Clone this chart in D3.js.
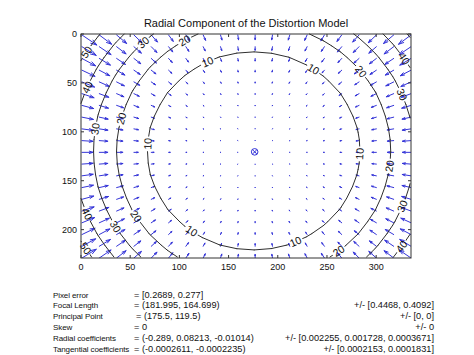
<!DOCTYPE html>
<html><head><meta charset="utf-8">
<script src="https://cdn.jsdelivr.net/npm/d3@7"></script>
<style>
body{margin:0;background:#fff;}
svg{display:block;font-family:"Liberation Sans",Arial,Helvetica,sans-serif;}
</style>
</head><body>
<svg id="c" width="474" height="355"></svg>
<script>
// ---- data (calibration results shown in the figure) ----
const imageSize = [352, 240];
const focalLength = [181.995, 164.699];
const principalPoint = [175.5, 119.5];
const radialCoeffs = [-0.289, 0.08213, -0.01014];
const gridCount = 20;
const contourLevels = [10, 20, 30, 40, 50];
const xTicks = [0, 50, 100, 150, 200, 250, 300];
const yTicks = [0, 50, 100, 150, 200];
const titleText = "Radial Component of the Distortion Model";
const infoLabels = ["Pixel error", "Focal Length", "Principal Point", "Skew", "Radial coefficients", "Tangential coefficients"];
const infoValues = ["= [0.2689, 0.277]", "= (181.995, 164.699)", "= (175.5, 119.5)", "= 0", "= (-0.289, 0.08213, -0.01014)", "= (-0.0002611, -0.0002235)"];
const infoErrors = ["", "+/- [0.4468, 0.4092]", "+/- [0, 0]", "+/- 0", "+/- [0.002255, 0.001728, 0.0003671]", "+/- [0.0002153, 0.0001831]"];
// contour label anchors: level -> directions (deg) from the principal point
const labelDirs = {
  10: [-117.6, -54.6, 1.1, 65.5, 128.6, -175.7],
  20: [-122.2, -166, 151.5, 49.7, 6, -37.1],
  30: [-135.5, -171.8, 151.8, -21.3, 20.2],
  40: [-158.9, 159.7, -32, 32.8],
  50: [-149.3, 150.3]
};

// ---- model ----
const mx = d3.range(gridCount).map(i => i * imageSize[0] / gridCount);
const my = d3.range(gridCount).map(j => j * imageSize[1] / gridCount);
function radialDisp(px, py) {
  const xn = (px - principalPoint[0]) / focalLength[0];
  const yn = (py - principalPoint[1]) / focalLength[1];
  const r2 = xn * xn + yn * yn;
  const f = radialCoeffs[0] * r2 + radialCoeffs[1] * r2 * r2 + radialCoeffs[2] * r2 * r2 * r2;
  return [focalLength[0] * xn * f, focalLength[1] * yn * f];
}
const field = [];
my.forEach((py, j) => mx.forEach((px, i) => {
  const d = radialDisp(px, py);
  field.push({i, j, px, py, dx: d[0], dy: d[1], r: Math.hypot(d[0], d[1])});
}));
const dr = my.map((_, j) => mx.map((_, i) => field[j * gridCount + i].r));

// ---- scales ----
const xMax = d3.max(mx) + 1, yMax = d3.max(my) + 1;
const X = d3.scaleLinear().domain([0, xMax]).range([81, 411]);
const Y = d3.scaleLinear().domain([0, yMax]).range([34, 258]);

const svg = d3.select("#c");
svg.append("rect").attr("width", 474).attr("height", 355).attr("fill", "#fff");

const defs = svg.append("defs");
defs.append("clipPath").attr("id", "plotclip").append("rect")
  .attr("x", X(0)).attr("y", Y(0)).attr("width", X(xMax) - X(0)).attr("height", Y(yMax) - Y(0));

// ---- quiver ----
const delx = (d3.max(mx) - d3.min(mx)) / gridCount;
const dely = (d3.max(my) - d3.min(my)) / gridCount;
const del = delx * delx + dely * dely;
const maxlen = d3.max(field, d => Math.sqrt((d.dx * d.dx + d.dy * d.dy) / del));
const sc = 0.9 / maxlen;
const alpha = 0.33, beta = 0.33, eps = 1e-12;
let qpath = "";
field.forEach(d => {
  const x0 = d.px + 1, y0 = d.py + 1, u = d.dx * sc, v = d.dy * sc;
  const tx = x0 + u, ty = y0 + v;
  const h1x = tx - alpha * (u + beta * (v + eps)), h1y = ty - alpha * (v - beta * (u + eps));
  const h2x = tx - alpha * (u - beta * (v + eps)), h2y = ty - alpha * (v + beta * (u + eps));
  qpath += `M${X(x0)},${Y(y0)}L${X(tx)},${Y(ty)}M${X(h1x)},${Y(h1y)}L${X(tx)},${Y(ty)}L${X(h2x)},${Y(h2y)}`;
});
svg.append("g").attr("clip-path", "url(#plotclip)").append("path")
  .attr("d", qpath).attr("fill", "none").attr("stroke", "#3434d8").attr("stroke-width", 1)
  .attr("stroke-linecap", "round");

// ---- contours (marching squares on the grid) ----
function contourSegs(level) {
  const segs = [];
  for (let j = 0; j < my.length - 1; j++) for (let i = 0; i < mx.length - 1; i++) {
    const c = [[i, j], [i + 1, j], [i + 1, j + 1], [i, j + 1]];
    const pts = [];
    for (let e = 0; e < 4; e++) {
      const a = c[e], b = c[(e + 1) % 4];
      const va = dr[a[1]][a[0]], vb = dr[b[1]][b[0]];
      if ((va < level) !== (vb < level)) {
        const t = (level - va) / (vb - va);
        pts.push([mx[a[0]] + t * (mx[b[0]] - mx[a[0]]), my[a[1]] + t * (my[b[1]] - my[a[1]])]);
      }
    }
    if (pts.length === 2) segs.push(pts);
    else if (pts.length === 4) { segs.push([pts[0], pts[1]]); segs.push([pts[2], pts[3]]); }
  }
  return segs.map(s => s.map(p => [X(p[0]), Y(p[1])]));
}
const cx = X(principalPoint[0] + 1), cy = Y(principalPoint[1] + 1);
const wrap = a => { while (a > Math.PI) a -= 2 * Math.PI; while (a < -Math.PI) a += 2 * Math.PI; return a; };

const mask = defs.append("mask").attr("id", "cmask").attr("maskUnits", "userSpaceOnUse")
  .attr("x", 0).attr("y", 0).attr("width", 474).attr("height", 355);
mask.append("rect").attr("width", 474).attr("height", 355).attr("fill", "#fff");

const cg = svg.append("g").attr("mask", "url(#cmask)");
const lg = svg.append("g");
contourLevels.forEach(level => {
  const segs = contourSegs(level);
  cg.append("path").attr("d", segs.map(s => `M${s[0][0]},${s[0][1]}L${s[1][0]},${s[1][1]}`).join(""))
    .attr("fill", "none").attr("stroke", "#2e2e2e").attr("stroke-width", 1).attr("stroke-linecap", "round");
  (labelDirs[level] || []).forEach(deg => {
    const th = deg * Math.PI / 180;
    let best = null;
    segs.forEach(s => {
      const d1 = wrap(Math.atan2(s[0][1] - cy, s[0][0] - cx) - th);
      const d2 = wrap(Math.atan2(s[1][1] - cy, s[1][0] - cx) - th);
      if (d1 * d2 <= 0 && Math.abs(d1 - d2) < 1) {
        const t = d1 === d2 ? 0 : d1 / (d1 - d2);
        const p = [s[0][0] + t * (s[1][0] - s[0][0]), s[0][1] + t * (s[1][1] - s[0][1])];
        const dist = Math.hypot(p[0] - cx, p[1] - cy);
        if (!best || dist < best.dist) best = {p, dist, s};
      }
    });
    if (!best) return;
    let ang = Math.atan2(best.s[1][1] - best.s[0][1], best.s[1][0] - best.s[0][0]) * 180 / Math.PI;
    if (ang > 90) ang -= 180; if (ang <= -90) ang += 180;
    const t = lg.append("text").attr("transform", `translate(${best.p[0]},${best.p[1]}) rotate(${ang})`)
      .attr("text-anchor", "middle").attr("dy", "0.35em").attr("font-size", 10.5).attr("fill", "#111")
      .text(String(level));
    const w = t.node().getComputedTextLength() + 3;
    mask.append("rect").attr("x", -w / 2).attr("y", -5).attr("width", w).attr("height", 10)
      .attr("transform", `translate(${best.p[0]},${best.p[1]}) rotate(${ang})`).attr("fill", "#000");
  });
});

// ---- principal point marker ----
svg.append("circle").attr("cx", cx).attr("cy", cy).attr("r", 3.3)
  .attr("fill", "none").attr("stroke", "#3434d8").attr("stroke-width", 1);
svg.append("path").attr("d", `M${cx - 2.3},${cy - 2.3}L${cx + 2.3},${cy + 2.3}M${cx - 2.3},${cy + 2.3}L${cx + 2.3},${cy - 2.3}`)
  .attr("stroke", "#3434d8").attr("stroke-width", 1);

// ---- axes ----
const ax = svg.append("g").attr("stroke", "#333").attr("stroke-width", 1).attr("fill", "none");
ax.append("rect").attr("x", X(0)).attr("y", Y(0)).attr("width", X(xMax) - X(0)).attr("height", Y(yMax) - Y(0));
xTicks.forEach(v => {
  ax.append("line").attr("x1", X(v)).attr("x2", X(v)).attr("y1", Y(yMax)).attr("y2", Y(yMax) - 3);
  ax.append("line").attr("x1", X(v)).attr("x2", X(v)).attr("y1", Y(0)).attr("y2", Y(0) + 3);
});
yTicks.forEach(v => {
  ax.append("line").attr("y1", Y(v)).attr("y2", Y(v)).attr("x1", X(0)).attr("x2", X(0) + 3);
  ax.append("line").attr("y1", Y(v)).attr("y2", Y(v)).attr("x1", X(xMax)).attr("x2", X(xMax) - 3);
});
svg.append("g").selectAll("text").data(xTicks).join("text")
  .attr("x", d => X(d)).attr("y", 269.5).attr("text-anchor", "middle").attr("font-size", 9).attr("fill", "#111").text(d => d);
svg.append("g").selectAll("text").data(yTicks).join("text")
  .attr("x", 77).attr("y", d => Y(d)).attr("dy", "0.35em").attr("text-anchor", "end").attr("font-size", 9).attr("fill", "#111").text(d => d);

// ---- title ----
svg.append("text").attr("x", (X(0) + X(xMax)) / 2).attr("y", 27).attr("text-anchor", "middle")
  .attr("font-size", 11).attr("fill", "#111").text(titleText);

// ---- info block ----
const rowY = d3.scaleLinear().domain([0, 5]).range([297.5, 352]);
const info = svg.append("g").attr("fill", "#111");
info.selectAll(".lab").data(infoLabels).join("text").attr("class", "lab")
  .attr("x", 53).attr("y", (d, i) => rowY(i)).attr("font-size", 8).attr("letter-spacing", -0.1).text(d => d);
info.selectAll(".val").data(infoValues).join("text").attr("class", "val")
  .attr("x", (d, i) => i === 2 ? 136 : 134).attr("y", (d, i) => rowY(i)).attr("font-size", 9.2).text(d => d);
info.selectAll(".err").data(infoErrors).join("text").attr("class", "err")
  .attr("x", 434).attr("y", (d, i) => rowY(i)).attr("text-anchor", "end").attr("font-size", 9.2).text(d => d);
</script>
</body></html>
